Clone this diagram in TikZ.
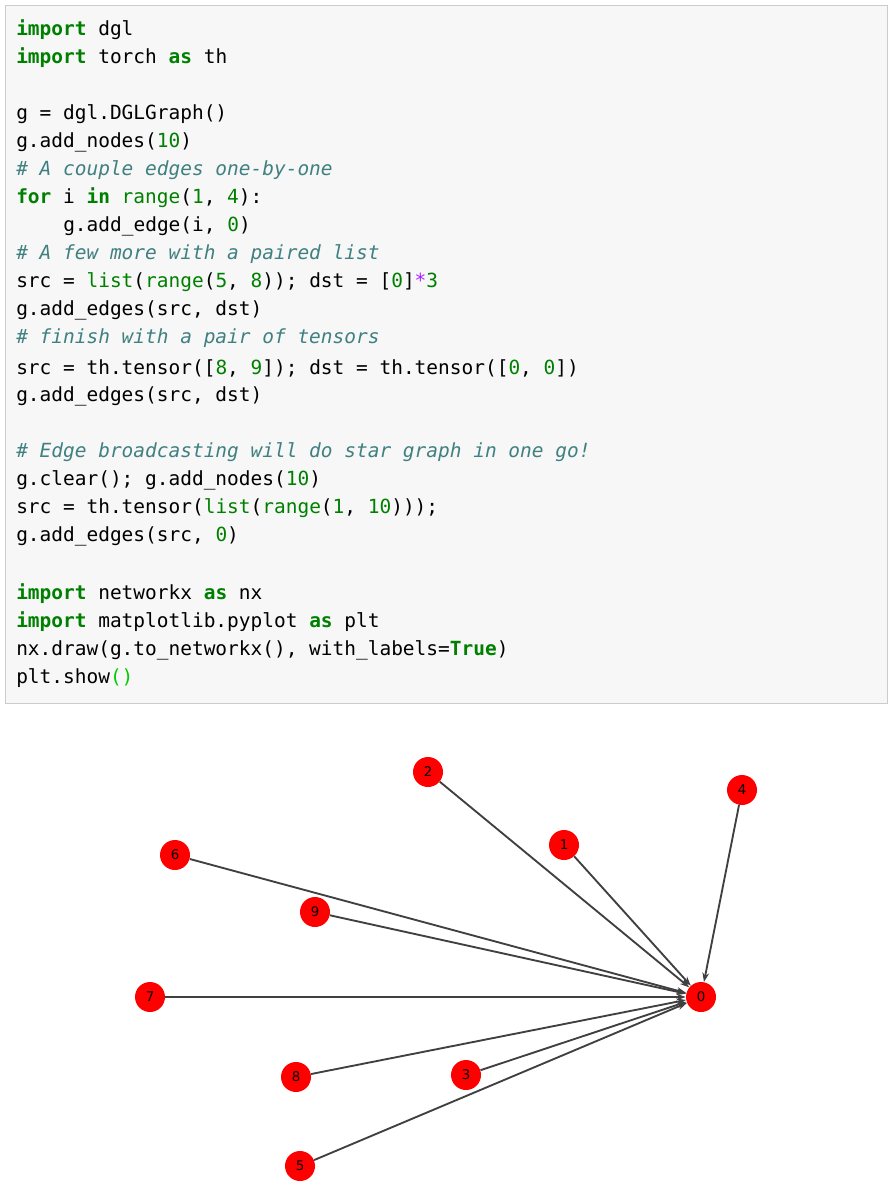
\documentclass[tikz,border=0pt]{standalone}
\usepackage{fontspec}
\setsansfont{DejaVu Sans}
\newfontfamily\codefont{DejaVu Sans Mono}[WordSpace={1,0,0}]
\usetikzlibrary{arrows.meta}
\definecolor{kwc}{HTML}{008000}
\definecolor{cmc}{HTML}{408080}
\definecolor{opc}{HTML}{AA22FF}
\newcommand{\kw}[1]{\textcolor{kwc}{\bfseries #1}}
\newcommand{\nm}[1]{\textcolor{kwc}{#1}}
\newcommand{\cm}[1]{\textcolor{cmc}{\itshape #1}}
\tikzset{
 code/.style={anchor=west,inner sep=0pt,font=\codefont\fontsize{14.6pt}{17pt}\selectfont},
 gn/.style={circle,fill=red,minimum size=22.5pt,inner sep=0pt,font=\sffamily\fontsize{10pt}{12pt}\selectfont},
 ge/.style={draw=black!75,line width=1.4pt,-{Stealth[length=7pt,width=5pt]},shorten >=0pt}
}
\begin{document}
\begin{tikzpicture}[x=0.75pt,y=-0.75pt]
\useasboundingbox (0,0) rectangle (888,1200);
\draw[fill=black!3,draw=black!20] (5,5) rectangle (887,703);
\node[code] (l1) at (16,30) {\kw{import} dgl};
\node[code] (l2) at (16,58) {\kw{import} torch \kw{as} th};
\node[code] (l3) at (16,114) {g = dgl.DGLGraph()};
\node[code] (l4) at (16,142) {g.add\_nodes(\nm{10})};
\node[code] (l5) at (16,170) {\cm{\# A couple edges one-by-one}};
\node[code] (l6) at (16,198) {\kw{for} i \kw{in} \nm{range}(\nm{1}, \nm{4}):};
\node[code] (l7) at (63,226) {g.add\_edge(i, \nm{0})};
\node[code] (l8) at (16,254) {\cm{\# A few more with a paired list}};
\node[code] (l9) at (16,282) {src = \nm{list}(\nm{range}(\nm{5}, \nm{8})); dst = [\nm{0}]\textcolor{opc}{*}\nm{3}};
\node[code] (l10) at (16,310) {g.add\_edges(src, dst)};
\node[code] (l11) at (16,338) {\cm{\# finish with a pair of tensors}};
\node[code] (l12) at (16,368) {src = th.tensor([\nm{8}, \nm{9}]); dst = th.tensor([\nm{0}, \nm{0}])};
\node[code] (l13) at (16,396) {g.add\_edges(src, dst)};
\node[code] (l14) at (16,452) {\cm{\# Edge broadcasting will do star graph in one go!}};
\node[code] (l15) at (16,480) {g.clear(); g.add\_nodes(\nm{10})};
\node[code] (l16) at (16,508) {src = th.tensor(\nm{list}(\nm{range}(\nm{1}, \nm{10})));};
\node[code] (l17) at (16,536) {g.add\_edges(src, \nm{0})};
\node[code] (l18) at (16,594) {\kw{import} networkx \kw{as} nx};
\node[code] (l19) at (16,622) {\kw{import} matplotlib.pyplot \kw{as} plt};
\node[code] (l20) at (16,650) {nx.draw(g.to\_networkx(), with\_labels=\kw{True})};
\node[code] (l21) at (16,678) {plt.show\textcolor{green!80!black}{()}};
\node[gn] (n0) at (701,997) {0};
\node[gn] (n1) at (564,845) {1};
\node[gn] (n2) at (428,772) {2};
\node[gn] (n3) at (466,1075) {3};
\node[gn] (n4) at (742,790) {4};
\node[gn] (n5) at (300,1166) {5};
\node[gn] (n6) at (175,855) {6};
\node[gn] (n7) at (150,997) {7};
\node[gn] (n8) at (296,1077) {8};
\node[gn] (n9) at (315,912) {9};
\foreach \s in {1,...,9} \draw[ge] (n\s) -- (n0);
\end{tikzpicture}
\end{document}
